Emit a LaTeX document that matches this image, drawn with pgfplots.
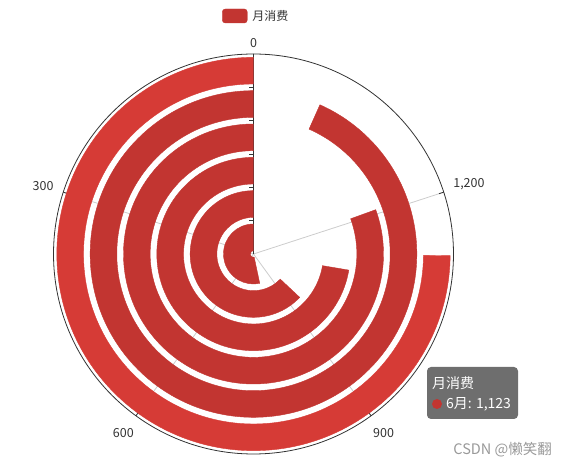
\documentclass[border=0pt]{standalone}
\usepackage{fontspec}
\setmainfont{Noto Sans CJK SC}
\usepackage{pgfplots}
\usepackage{pgfplotstable}
\pgfplotsset{compat=1.18}
\usepgfplotslibrary{polar}

\definecolor{barred}{HTML}{C23531}
\definecolor{barhot}{HTML}{D63B36}
\definecolor{axisgray}{HTML}{333333}
\definecolor{splitgray}{HTML}{CCCCCC}
\definecolor{tipgray}{HTML}{6E6E6E}

% empty mark: the rings are drawn by the scatter code
\pgfdeclareplotmark{blank}{}
\newcount\ringno

% month, monthly spend
\pgfplotstableread{
cat value
1 800
2 945
3 1085
4 1208
5 1400
6 1123
}\spend

\begin{document}
\begin{tikzpicture}[font=\fontsize{12}{14}\selectfont]
\path[use as bounding box] (0,0) rectangle (566pt,468pt);
\begin{polaraxis}[
  at={(253.5pt,214pt)}, anchor=center,
  scale only axis, width=400pt, height=400pt,
  xmin=0, xmax=360, ymin=0, ymax=6,
  xtick={18,90,162,234,306},
  xticklabels={{1,200},0,300,600,900},
  ytick=\empty,
  xmajorgrids,
  major grid style={splitgray, line width=0.8pt},
  axis line style={axisgray, line width=0.8pt},
  y axis line style={draw=none},
  xtick style={axisgray, line width=0.8pt},
  xtick align=outside,
  major tick length=5pt,
  xticklabel style={text=axisgray, font=\fontsize{12.5}{14}\selectfont, outer sep=8.5pt},
  /pgf/number format/assume math mode=true,
  clip=false,
  legend style={at={(0.421,1.095)}, anchor=west, draw=none, fill=none,
    inner sep=0pt, column sep=3pt, font=\fontsize{12}{14}\selectfont, text=axisgray},
]
\addplot[scatter, only marks, mark=blank, forget plot,
  point meta=explicit symbolic,
  scatter/@pre marker code/.code={%
    \global\advance\ringno by 1
    \pgfmathsetmacro\ea{90+0.24*\pgfplotspointmeta}%
    \pgfmathsetmacro\rin{(\the\ringno-1)*200/6+3.333}%
    \pgfmathsetmacro\rout{\the\ringno*200/6-3.333}%
    \ifnum\ringno=6 \def\ringcol{barhot}\else\def\ringcol{barred}\fi
    \fill[\ringcol] (90:\rout pt) arc[start angle=90, end angle=\ea, radius=\rout pt]
      -- (\ea:\rin pt) arc[start angle=\ea, end angle=90, radius=\rin pt] -- cycle;
  },
  scatter/@post marker code/.code={},
] table[x expr=0, y expr=0, meta=value] {\spend};
\addlegendimage{legend image code/.code={\fill[barred, rounded corners=3pt] (0pt,-7pt) rectangle (25pt,7pt);}}
\addlegendentry{月消费}
% radius axis on top of the bars
\draw[axisgray, line width=0.8pt] (axis cs:90,0) -- (axis cs:90,6);
\pgfplotsinvokeforeach{1,...,5}{\draw[axisgray, line width=0.8pt] (axis cs:90,#1) -- ++(-4pt,0);}
\end{polaraxis}
% tooltip
\fill[tipgray, rounded corners=4pt] (427pt,49pt) rectangle (518pt,101pt);
\node[anchor=west, text=white, inner sep=0pt, font=\fontsize{14}{16}\selectfont] at (432pt,85pt) {月消费};
\fill[barred] (437pt,64pt) circle (5pt);
\node[anchor=west, text=white, inner sep=0pt, font=\fontsize{14}{16}\selectfont] at (446pt,64pt) {6月: 1,123};
\node[anchor=east, text=black!40, inner sep=0pt, font=\fontsize{14.5}{16}\selectfont] at (552pt,18pt) {CSDN @懒笑翻};
\end{tikzpicture}
\end{document}
